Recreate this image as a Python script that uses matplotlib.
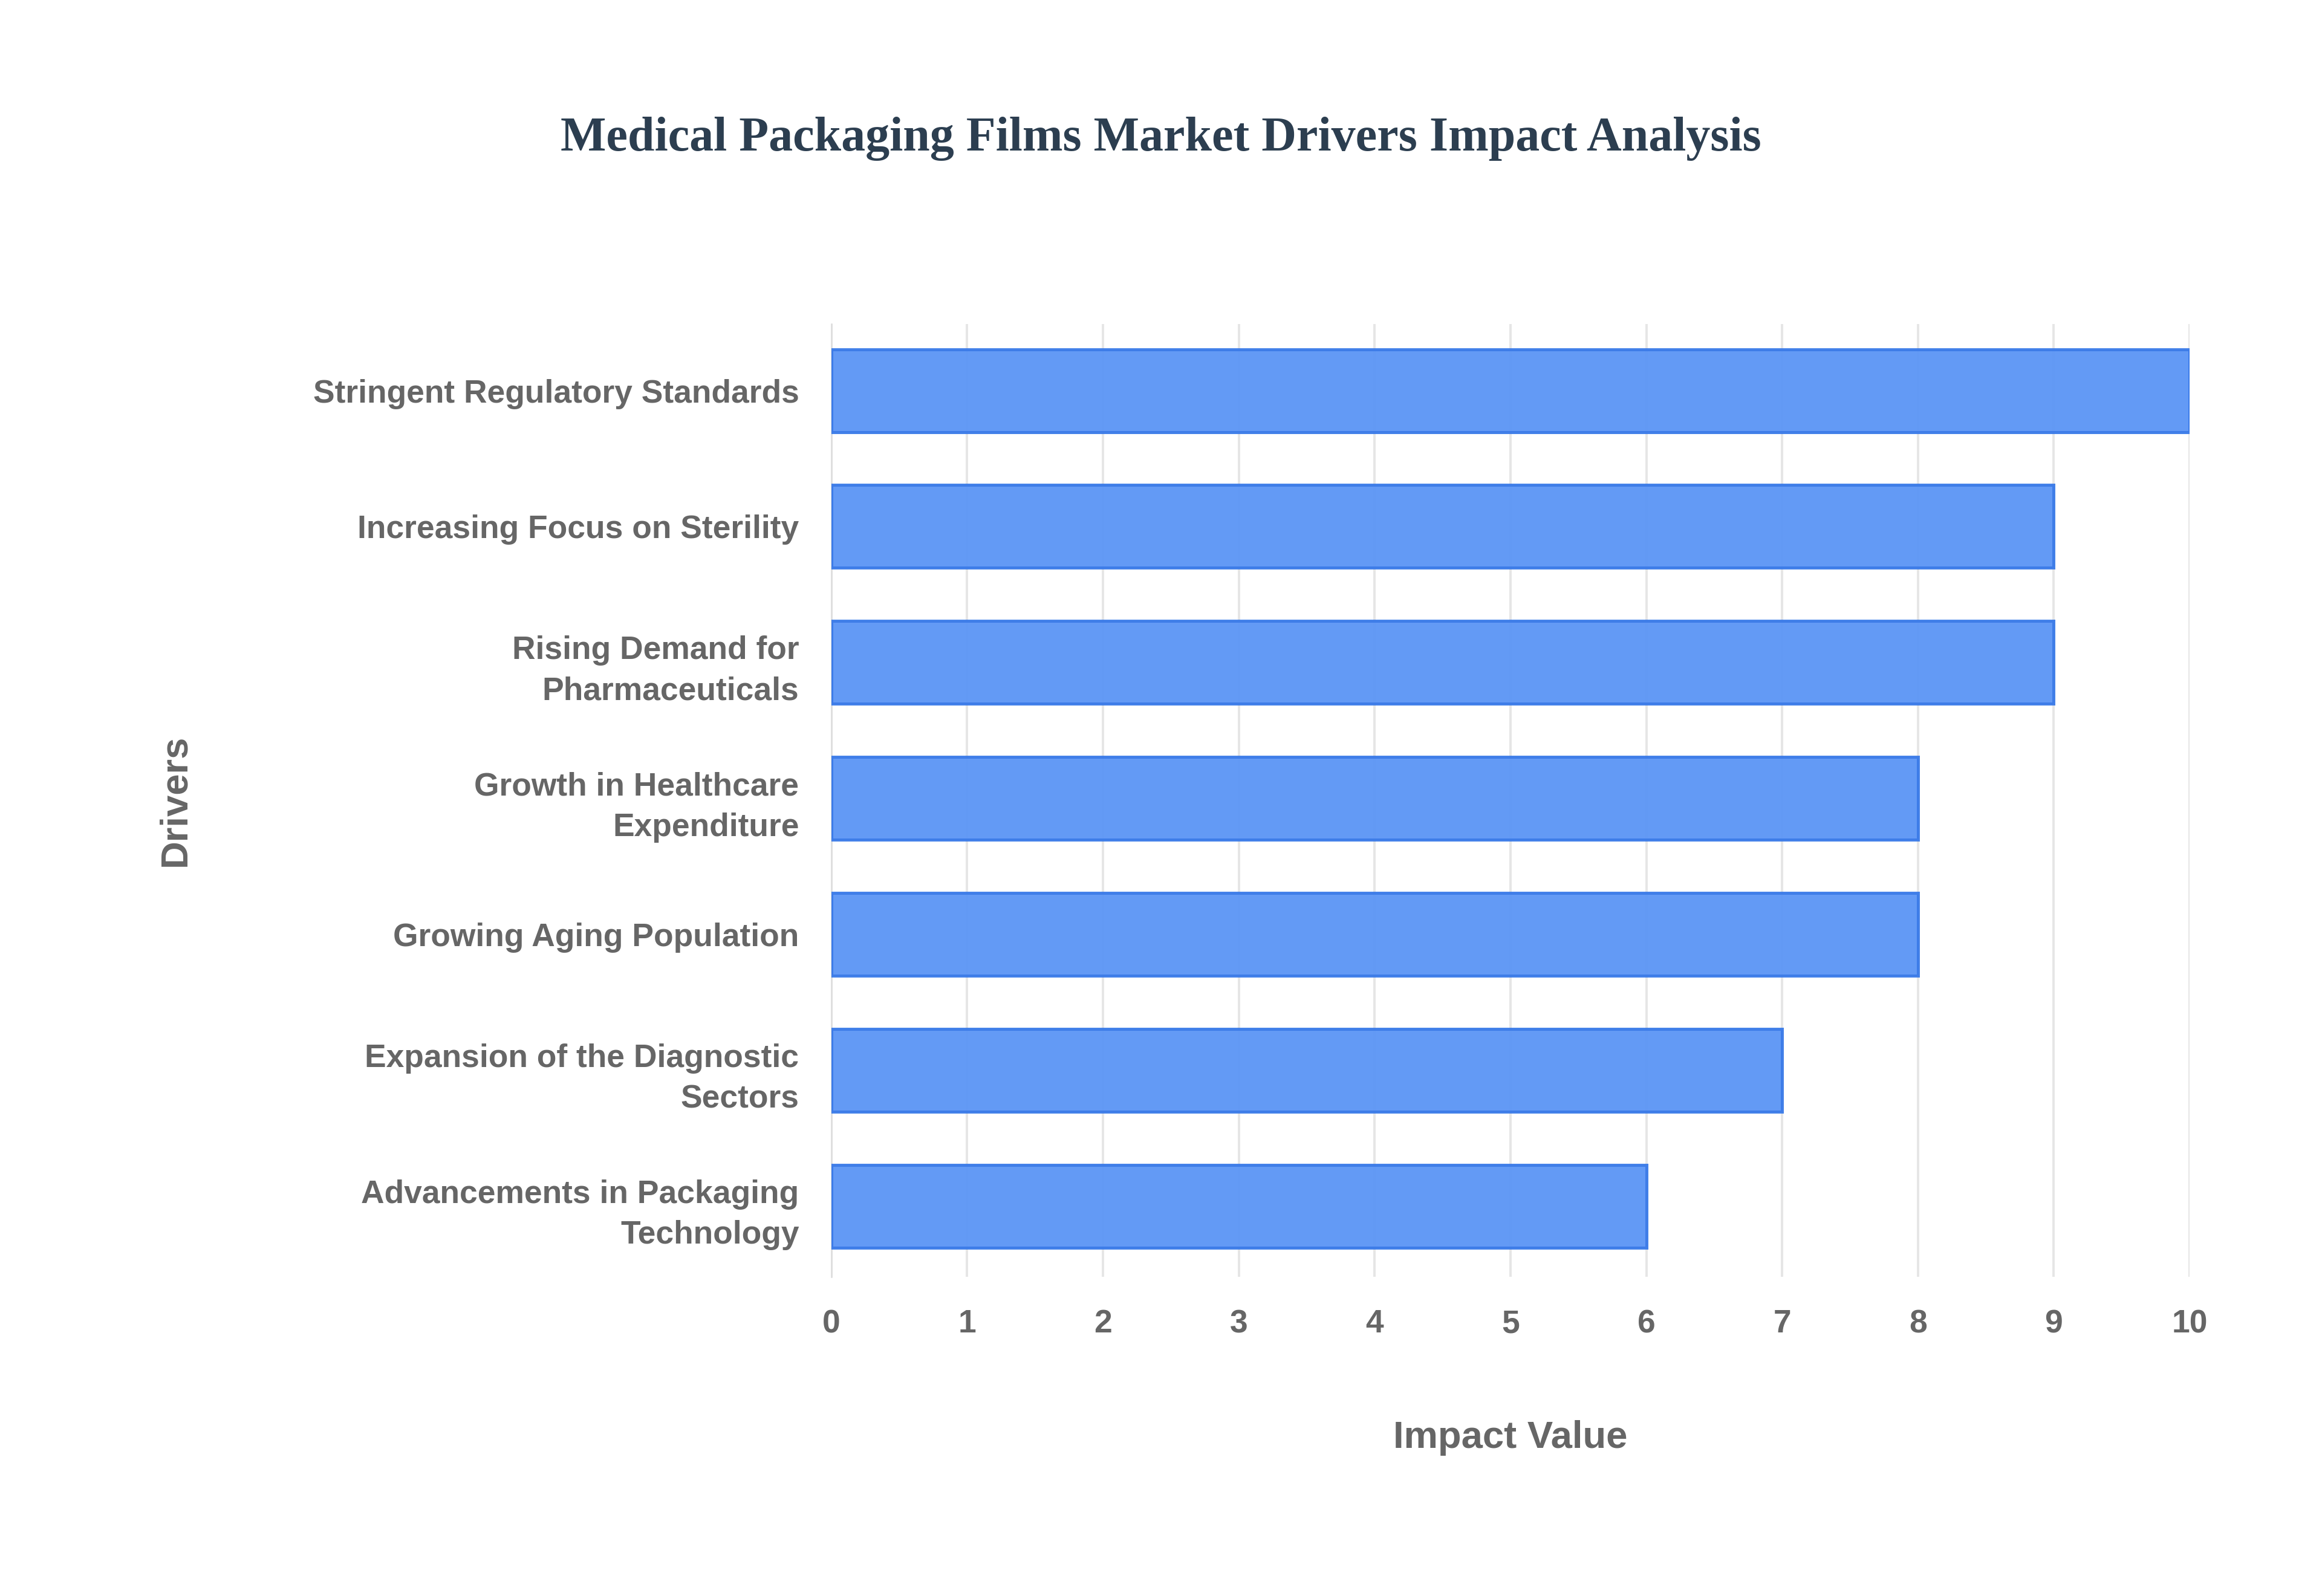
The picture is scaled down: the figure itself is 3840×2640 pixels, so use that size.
import matplotlib
matplotlib.use("Agg")
import matplotlib.pyplot as plt

# data, top to bottom
drivers = [
  "Stringent Regulatory Standards",
  "Increasing Focus on Sterility",
  "Rising Demand for\nPharmaceuticals",
  "Growth in Healthcare\nExpenditure",
  "Growing Aging Population",
  "Expansion of the Diagnostic\nSectors",
  "Advancements in Packaging\nTechnology",
]
impact = [10, 9, 9, 8, 8, 7, 6]

fig = plt.figure(figsize=(16, 11), dpi=240)
ax = fig.add_axes([0.358, 0.2, 0.585, 0.597])

ypos = list(range(len(drivers)))[::-1]
ax.barh(ypos, impact, height=0.61, color="#5b95f5", alpha=0.95,
        edgecolor="#3b7be8", linewidth=1.5, zorder=3)

ax.set_xlim(0, 10)
ax.set_ylim(-0.52, 6.49)
ax.set_xticks(range(0, 11))
ax.set_yticks(ypos)
ax.set_yticklabels(drivers)
for lab in ax.get_yticklabels():
  lab.set_horizontalalignment("right")
  lab.set_linespacing(1.45)

ax.grid(axis="x", color="#e6e6e6", linewidth=1.2, zorder=0)
for s in ["top", "right", "bottom"]:
  ax.spines[s].set_visible(False)
ax.spines["left"].set_color("#dddddd")
ax.tick_params(length=0, pad=16, labelsize=16, labelcolor="#666666")
for lab in ax.get_xticklabels() + ax.get_yticklabels():
  lab.set_fontfamily("Liberation Sans")
  lab.set_fontweight("bold")

ax.set_xlabel("Impact Value", fontsize=19, color="#666666", fontweight="bold",
              family="Liberation Sans", labelpad=40)
ax.set_ylabel("Drivers", fontsize=19, color="#666666", fontweight="bold",
              family="Liberation Sans")
ax.yaxis.set_label_coords(-0.47, 0.5)

fig.text(0.5, 0.913, "Medical Packaging Films Market Drivers Impact Analysis",
         ha="center", va="center", fontsize=24, fontweight="bold",
         family="Liberation Serif", color="#2c3e50")

fig.savefig("out.png", dpi=240, facecolor="white")
